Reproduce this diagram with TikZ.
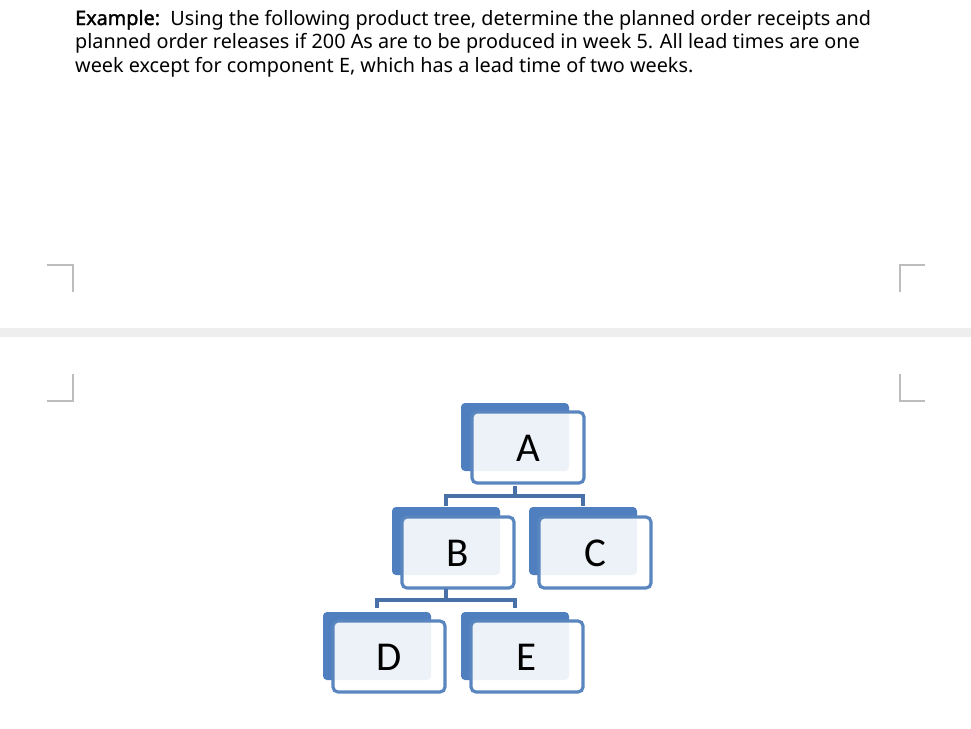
\documentclass[tikz,border=0pt]{standalone}
\usepackage{fontspec}
\setmainfont{Noto Sans}
\newfontfamily\boldpart{Noto Sans}[FakeBold=1.6]
\newfontfamily\boxfont{Carlito}
\definecolor{backblue}{HTML}{4F7FBE}
\definecolor{lineblue}{HTML}{5A86C0}
\definecolor{connblue}{HTML}{4871A8}
\definecolor{markgray}{HTML}{BDBDBD}
\definecolor{bandgray}{HTML}{EEEEEE}
\tikzset{
  backbox/.style={fill=backblue, rounded corners=4pt, draw=none},
  frontbox/.style={fill=white, fill opacity=0.9, draw=lineblue, draw opacity=1, line width=3.2pt, rounded corners=5pt},
  letter/.style={font=\boxfont\fontsize{41}{41}\selectfont, text=black, inner sep=0pt},
  conn/.style={draw=connblue, line width=3.4pt},
  cropmark/.style={draw=markgray, line width=1.3pt},
  textline/.style={anchor=base west, inner sep=0pt, font=\fontsize{19.8}{23}\selectfont}
}
\begin{document}
\begin{tikzpicture}[x=1pt,y=-1pt]
\useasboundingbox (0,0) rectangle (971,728);
% text
\node[textline] (t1) at (75,25) {{\boldpart Example:}\ \ Using the following product tree, determine the planned order receipts and};
\node[textline] (t2) at (75,48.5) {planned order releases if 200 As are to be produced in week 5. All lead times are one};
\node[textline] (t3) at (75,72) {week except for component E, which has a lead time of two weeks.};
% page band
\fill[bandgray] (0,328) rectangle (971,337);
% crop marks
\draw[cropmark] (47,265) -- (73,265) -- (73,292);
\draw[cropmark] (925,265) -- (900,265) -- (900,292);
\draw[cropmark] (73,374) -- (73,401) -- (47,401);
\draw[cropmark] (900,374) -- (900,401) -- (925,401);
% boxes
\newcommand{\treebox}[6]{% name, back x1,y1, dx, dy, label
  \fill[backbox] (#2,#3) rectangle ++(108,68);
  \draw[frontbox] (#2+#4,#3+#5) rectangle ++(112,71);
  \node[letter] (#1) at (#2+#4+56,#3+#5+36) {#6};
}
\treebox{A}{461}{403}{11}{9}{A}
\treebox{B}{392}{507}{10}{10}{B}
\treebox{C}{529}{507}{10}{10}{C}
\treebox{D}{323}{612}{10}{9}{D}
\treebox{E}{461}{612}{10}{9}{E}
% connectors
\coordinate (abot) at (515,486);
\coordinate (ajoin) at (515,496);
\coordinate (ab) at (446,506);
\coordinate (ac) at (583,506);
\coordinate (bbot) at (446,589);
\coordinate (bjoin) at (446,600);
\coordinate (bd) at (377,608);
\coordinate (be) at (515,608);
\draw[conn] (abot) -- (ajoin);
\draw[conn] (ab) -- (ab |- ajoin) -- (ac |- ajoin) -- (ac);
\draw[conn] (bbot) -- (bjoin);
\draw[conn] (bd) -- (bd |- bjoin) -- (be |- bjoin) -- (be);
\end{tikzpicture}
\end{document}
